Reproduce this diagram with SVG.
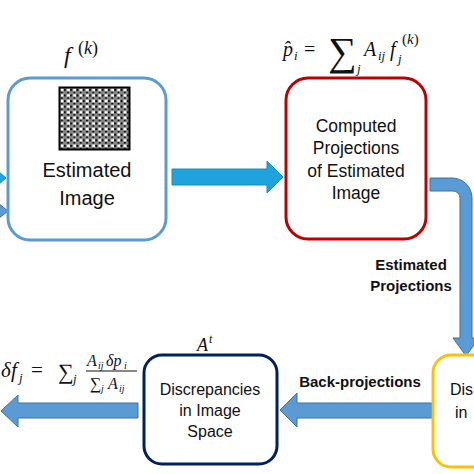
<svg xmlns="http://www.w3.org/2000/svg" width="474" height="474" viewBox="0 0 474 474">
<style>
.lbl{font-family:"Liberation Sans",Arial,sans-serif;fill:#111;text-anchor:middle}
.bold{font-family:"Liberation Sans",Arial,sans-serif;font-weight:bold;fill:#111;text-anchor:middle;font-size:15px}
.m{font-family:"Liberation Serif","Times New Roman",serif;fill:#111}
.i{font-style:italic}
.box{fill:#fff;stroke-width:3}
.steel{fill:#5b9bd5;stroke:#41719c;stroke-width:1}
.cyan{fill:#1fa3dd;stroke:#1a8cc0;stroke-width:1}
</style>
<defs>
<pattern id="chk" x="60" y="88" width="6.3" height="5.6" patternUnits="userSpaceOnUse">
<rect width="6.3" height="5.6" fill="#8a8a8a"/>
<rect x="0.6" y="0.6" width="3" height="2.6" fill="#fff"/>
<rect x="3.8" y="0.8" width="2" height="2.2" fill="#000"/>
<rect x="0.8" y="3.6" width="2" height="1.6" fill="#000"/>
</pattern>
</defs>
<rect width="474" height="474" fill="#fff"/>

<g id="connectors">
<path class="cyan" d="M172,169 L267,169 L267,161 L283,177 L267,193 L267,185 L172,185 Z"/>
<path class="steel" d="M430,178 L452,178 A20,20 0 0 1 472,198 L472,338 L479,338 L466,356 L453,338 L460,338 L460,198 A7,7 0 0 0 453,191 L430,191 Z"/>
<path class="steel" d="M432,403 L297,403 L297,393 L280,410 L297,427 L297,418 L432,418 Z"/>
<path class="steel" d="M138,403 L18,403 L18,395 L1,411 L18,427 L18,418 L138,418 Z"/>
<path class="cyan" d="M-2,171 L6,178 L-2,185 Z"/>
<path class="steel" d="M-2,203 L8,211 L-2,219 Z"/>
<text class="bold" x="411" y="270">Estimated</text>
<text class="bold" x="411" y="291">Projections</text>
<text class="bold" x="360" y="387">Back-projections</text>
</g>

<g id="estimated-image">
<rect class="box" x="8" y="78" width="158" height="162" rx="22" stroke="#5b9bd5"/>
<rect x="59.5" y="87.5" width="70" height="62" fill="url(#chk)" stroke="#000" stroke-width="2"/>
<text class="lbl" x="87" y="177" font-size="20">Estimated</text>
<text class="lbl" x="87" y="205" font-size="20">Image</text>
<text class="m i" x="64" y="63" font-size="24">f</text>
<text class="m" x="78" y="54" font-size="18">(<tspan class="i">k</tspan>)</text>
</g>

<g id="computed-projections">
<rect class="box" x="286" y="78" width="140" height="161" rx="22" stroke="#c00000"/>
<text class="lbl" x="356" y="132" font-size="17.5">Computed</text>
<text class="lbl" x="356" y="154" font-size="17.5">Projections</text>
<text class="lbl" x="356" y="177" font-size="17.5">of Estimated</text>
<text class="lbl" x="356" y="199" font-size="17.5">Image</text>
<text class="m i" x="283" y="56" font-size="20">p̂</text>
<text class="m i" x="294" y="60" font-size="13">i</text>
<text class="m" x="304" y="56" font-size="20">=</text>
<text class="m" x="328" y="65" font-size="40">∑</text>
<text class="m i" x="357" y="73" font-size="13">j</text>
<text class="m i" x="364" y="56" font-size="20">A</text>
<text class="m i" x="378" y="60" font-size="13">ij</text>
<text class="m i" x="390" y="56" font-size="20">f</text>
<text class="m i" x="398" y="63" font-size="13">j</text>
<text class="m" x="402" y="44" font-size="15">(<tspan class="i">k</tspan>)</text>
</g>

<g id="discrepancies-projection">
<rect class="box" x="433" y="355" width="110" height="112" rx="18" stroke="#ffc000"/>
<text class="lbl" x="450" y="395" font-size="16" style="text-anchor:start">Dis</text>
<text class="lbl" x="455" y="418" font-size="16" style="text-anchor:start">in</text>
</g>

<g id="discrepancies-image">
<rect class="box" x="144" y="355" width="133" height="109" rx="18" stroke="#002060"/>
<text class="lbl" x="210" y="395" font-size="16">Discrepancies</text>
<text class="lbl" x="210" y="416" font-size="16">in Image</text>
<text class="lbl" x="210" y="437" font-size="16">Space</text>
<text class="m i" x="197" y="351" font-size="18">A</text>
<text class="m i" x="209" y="343" font-size="12">t</text>
</g>

<g id="update-formula">
<text class="m i" x="1" y="377" font-size="21">δ</text>
<text class="m i" x="11" y="377" font-size="21">f</text>
<text class="m i" x="19" y="382" font-size="13">j</text>
<text class="m" x="31" y="377" font-size="21">=</text>
<text class="m" x="58" y="379" font-size="22">∑</text>
<text class="m i" x="73" y="383" font-size="13">j</text>
<text class="m i" x="87" y="366" font-size="16">A</text>
<text class="m i" x="98" y="369" font-size="10">ij</text>
<text class="m i" x="106" y="366" font-size="16">δp</text>
<text class="m i" x="124" y="369" font-size="10">i</text>
<line x1="86" y1="371" x2="137" y2="371" stroke="#111" stroke-width="1"/>
<text class="m" x="90" y="389" font-size="16">∑</text>
<text class="m i" x="101" y="392" font-size="10">j</text>
<text class="m i" x="108" y="389" font-size="16">A</text>
<text class="m i" x="119" y="392" font-size="10">ij</text>
</g>
</svg>
